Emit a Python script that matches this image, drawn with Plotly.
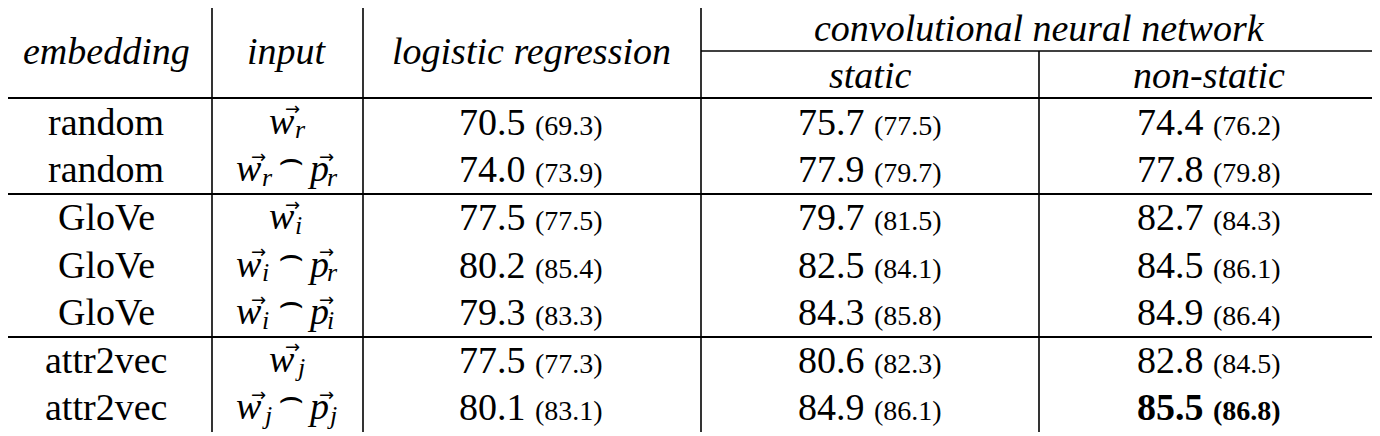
import plotly.graph_objects as go

# ---- data ----
embeddings = ["random", "random", "GloVe", "GloVe", "GloVe", "attr2vec", "attr2vec"]
# input vectors: (word-vector subscript, position-vector subscript or None)
input_w_sub = ["r", "r", "i", "i", "i", "j", "j"]
input_p_sub = [None, "r", None, "r", "i", None, "j"]
lr_main = [70.5, 74.0, 77.5, 80.2, 79.3, 77.5, 80.1]
lr_paren = [69.3, 73.9, 77.5, 85.4, 83.3, 77.3, 83.1]
static_main = [75.7, 77.9, 79.7, 82.5, 84.3, 80.6, 84.9]
static_paren = [77.5, 79.7, 81.5, 84.1, 85.8, 82.3, 86.1]
nonstatic_main = [74.4, 77.8, 82.7, 84.5, 84.9, 82.8, 85.5]
nonstatic_paren = [76.2, 79.8, 84.3, 86.1, 86.4, 84.5, 86.8]
bold_row_nonstatic = 6
headers = ["embedding", "input", "logistic regression"]
group_header = "convolutional neural network"
sub_headers = ["static", "non-static"]

# ---- layout constants (page pixels; body has an 8px margin) ----
PAD = 8
W, H = 1380, 436
FONT = "Liberation Serif"
MATHFONT = "Liberation Serif"
MAIN = 38
SMALL = 28
SUB = 26
col_x = [106, 287, 531, 870, 1209]
row_top = 98
row_h = 47.6

fig = go.Figure()
fig.add_trace(go.Scatter(x=[PAD, W], y=[PAD, H], mode="markers",
                         marker=dict(opacity=0), hoverinfo="skip", showlegend=False))

ann = []


def add(x, y, text, size=MAIN, xanchor="center", family=FONT):
    ann.append(dict(x=x, y=y, xref="x", yref="y", text=text, showarrow=False,
                    xanchor=xanchor, yanchor="middle", borderpad=0,
                    font=dict(family=family, size=size, color="black")))


# headers
add(col_x[0], 51, "<i>%s</i>" % headers[0])
add(col_x[1], 51, "<i>%s</i>" % headers[1])
add(col_x[2], 51, "<i>%s</i>" % headers[2])
add(1039, 28, "<i>%s</i>" % group_header)
add(col_x[3], 75, "<i>%s</i>" % sub_headers[0])
add(col_x[4], 75, "<i>%s</i>" % sub_headers[1])


def vec(letter, sub, left, yc, arrow_dx, w):
    add(left, yc - 1, "<i>%s</i>" % letter, MAIN, "left", MATHFONT)
    add(left + w, yc + 8, "<i>%s</i>" % sub, SUB, "left", MATHFONT)
    add(left + arrow_dx, yc - 13, "\u2192", 18, "center", "DejaVu Sans")


def cell(main, paren, bold):
    m = "%.1f" % main
    p = "(%.1f)" % paren
    if bold:
        m = "<b>%s</b>" % m
        p = "<b>%s</b>" % p
    return "%s <span style='font-size:%dpx'>%s</span>" % (m, SMALL, p)


for i, emb in enumerate(embeddings):
    yc = row_top + row_h * (i + 0.5)
    add(col_x[0], yc, emb)
    ws, ps = input_w_sub[i], input_p_sub[i]
    if ps is None:
        vec("w", ws, 268, yc, 24, 26)
    else:
        vec("w", ws, 235, yc, 23, 26)
        add(291, yc - 11, "\u2322", 40, "center", "DejaVu Sans")
        vec("p", ps, 306, yc, 20, 20)
    add(col_x[2], yc, cell(lr_main[i], lr_paren[i], False))
    add(col_x[3], yc, cell(static_main[i], static_paren[i], False))
    add(col_x[4], yc, cell(nonstatic_main[i], nonstatic_paren[i], i == bold_row_nonstatic))

shapes = []


def line(x0, y0, x1, y1, w=1.6):
    shapes.append(dict(type="line", xref="x", yref="y", x0=x0, y0=y0, x1=x1, y1=y1,
                       line=dict(color="black", width=w)))


for vx in [212, 363, 701]:
    line(vx, 4, vx, 432)
line(1039, 51, 1039, 432)
line(701, 51, 1377, 51)
line(3, 98, 1377, 98, 2)
line(3, 194, 1377, 194, 2)
line(3, 337, 1377, 337, 2)

fig.update_layout(
    width=W - PAD, height=H - PAD, margin=dict(l=0, r=0, t=0, b=0),
    paper_bgcolor="white", plot_bgcolor="white",
    xaxis=dict(range=[PAD, W], visible=False, fixedrange=True),
    yaxis=dict(range=[H, PAD], visible=False, fixedrange=True),
    annotations=ann, shapes=shapes, showlegend=False,
)
fig.write_html("out.html")
